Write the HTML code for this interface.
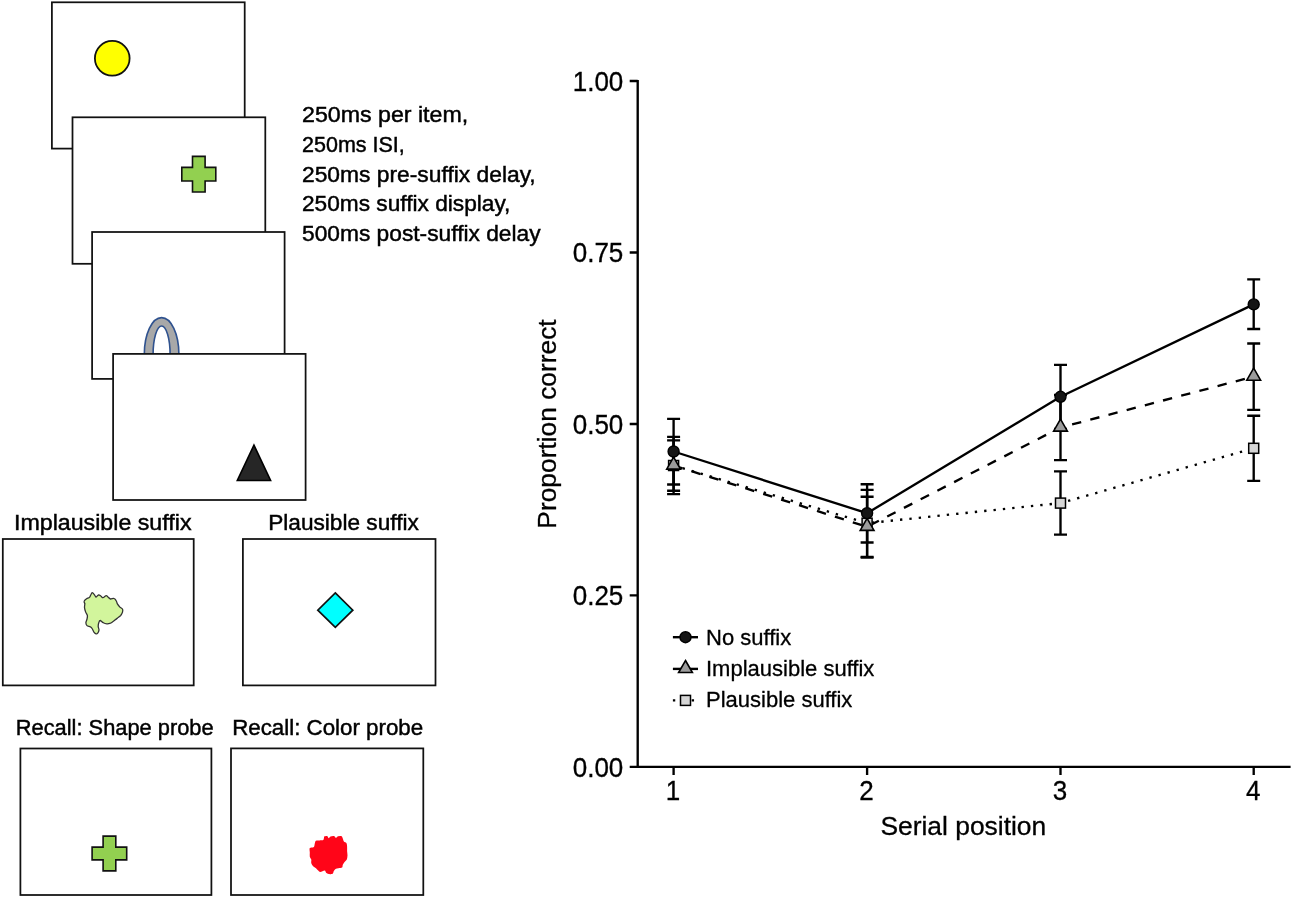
<!DOCTYPE html>
<html lang="en"><head><meta charset="utf-8"><title>Figure</title>
<style>
html,body{margin:0;padding:0;background:#fff;}
svg{display:block;font-family:"Liberation Sans",sans-serif;}
text{fill:#000;}
text.c{stroke:#000;stroke-width:0.45px;}
#chart text{stroke:#000;stroke-width:0.3px;}
</style></head>
<body>
<svg width="1299" height="898" viewBox="0 0 1299 898">
<rect width="1299" height="898" fill="#fff"/>
<g id="task">
<rect x="51.9" y="2.3" width="192.8" height="146.3" fill="#fff" stroke="#111" stroke-width="1.75"/>
<circle cx="112.25" cy="58.3" r="17.35" fill="#ffff00" stroke="#111" stroke-width="1.8"/>
<rect x="72.5" y="117.3" width="192.8" height="146.5" fill="#fff" stroke="#111" stroke-width="1.75"/>
<path d="M192.5 156.4L205.1 156.4L205.1 167.4L215.8 167.4L215.8 181.0L205.1 181.0L205.1 192.0L192.5 192.0L192.5 181.0L181.8 181.0L181.8 167.4L192.5 167.4Z" fill="#92d050" stroke="#111" stroke-width="1.6" stroke-linejoin="miter"/>
<rect x="92.1" y="232.0" width="192.5" height="146.9" fill="#fff" stroke="#111" stroke-width="1.75"/>
<path d="M144.3 354.4 A17.3 36.8 0 0 1 178.9 354.4 H170.1 A8.5 28.4 0 0 0 153.1 354.4 Z" fill="#a8a8a8" stroke="#2f528f" stroke-width="1.6"/>
<rect x="113.1" y="353.9" width="192.5" height="146.1" fill="#fff" stroke="#111" stroke-width="1.75"/>
<path d="M253.95 445.2L270.6 480.5H237.3Z" fill="#262626" stroke="#000" stroke-width="1.6" stroke-linejoin="miter"/>
<text class="c" x="302.0" y="122.3" font-size="22.2" textLength="166.2" lengthAdjust="spacingAndGlyphs">250ms per item,</text>
<text class="c" x="302.0" y="152.0" font-size="22.2" textLength="102.8" lengthAdjust="spacingAndGlyphs">250ms ISI,</text>
<text class="c" x="302.0" y="181.6" font-size="22.2" textLength="233.7" lengthAdjust="spacingAndGlyphs">250ms pre-suffix delay,</text>
<text class="c" x="302.0" y="211.2" font-size="22.2" textLength="208.4" lengthAdjust="spacingAndGlyphs">250ms suffix display,</text>
<text class="c" x="302.0" y="240.9" font-size="22.2" textLength="238.6" lengthAdjust="spacingAndGlyphs">500ms post-suffix delay</text>
<text class="c" x="14.0" y="530.0" font-size="22.2" textLength="177.5" lengthAdjust="spacingAndGlyphs">Implausible suffix</text>
<text class="c" x="268.2" y="530.0" font-size="22.2" textLength="150.6" lengthAdjust="spacingAndGlyphs">Plausible suffix</text>
<text class="c" x="15.8" y="734.6" font-size="22.2" textLength="197.8" lengthAdjust="spacingAndGlyphs">Recall: Shape probe</text>
<text class="c" x="232.2" y="734.6" font-size="22.2" textLength="191.0" lengthAdjust="spacingAndGlyphs">Recall: Color probe</text>
<rect x="2.8" y="539.0" width="190.9" height="146.4" fill="#fff" stroke="#111" stroke-width="1.75"/>
<path d="M92.4 592.7C93.1 592.8 94.4 594.8 95.0 595.6C95.6 596.3 95.5 597.1 96.1 597.0C96.7 596.9 97.7 595.0 98.6 594.8C99.4 594.7 100.4 595.8 101.1 596.3C101.9 596.8 102.1 597.9 102.9 597.7C103.8 597.6 105.3 595.6 106.2 595.6C107.1 595.5 107.6 596.8 108.4 597.4C109.1 597.9 109.6 598.8 110.5 599.0C111.5 599.1 113.2 598.1 114.2 598.5C115.1 598.8 115.8 600.1 116.3 601.0C116.9 601.9 116.8 602.9 117.4 603.9C118.0 604.9 119.1 606.3 119.9 607.1C120.8 608.0 122.1 608.1 122.5 609.0C122.9 609.8 122.8 611.1 122.5 612.2C122.2 613.3 121.6 614.4 120.7 615.5C119.8 616.5 118.3 617.4 117.1 618.4C115.8 619.3 114.5 620.5 113.4 621.3C112.3 622.0 111.6 622.6 110.5 623.1C109.5 623.5 108.1 623.9 106.9 623.8C105.7 623.7 104.4 623.3 103.3 622.7C102.2 622.2 101.1 620.7 100.4 620.5C99.7 620.4 99.3 621.0 99.0 622.0C98.6 623.0 98.2 625.0 98.2 626.3C98.2 627.7 99.0 628.9 99.0 629.9C98.9 631.0 98.4 632.2 97.9 632.8C97.4 633.5 96.7 634.1 96.1 633.9C95.4 633.8 94.6 633.0 93.9 632.1C93.2 631.2 92.7 629.4 92.1 628.5C91.5 627.6 91.1 627.2 90.3 626.7C89.4 626.2 87.7 626.3 87.0 625.6C86.3 624.9 85.9 623.8 85.9 622.7C85.9 621.6 86.8 620.3 87.0 619.1C87.3 617.9 87.6 616.7 87.4 615.5C87.1 614.3 86.0 613.2 85.6 611.9C85.1 610.5 84.6 608.8 84.5 607.5C84.4 606.2 84.9 604.9 84.8 603.9C84.8 602.9 83.8 602.2 84.1 601.4C84.4 600.5 85.7 599.5 86.6 598.8C87.6 598.2 88.8 598.1 89.5 597.4C90.3 596.6 90.5 595.3 91.0 594.5C91.5 593.7 91.8 592.5 92.4 592.7Z" fill="#d2f59c" stroke="#333" stroke-width="1.3"/>
<rect x="242.9" y="539.0" width="192.6" height="146.4" fill="#fff" stroke="#111" stroke-width="1.75"/>
<path d="M335.3 592.9L352.8 610.15L335.3 627.4L317.8 610.15Z" fill="#00ffff" stroke="#111" stroke-width="1.7"/>
<rect x="20.4" y="748.5" width="191.0" height="146.5" fill="#fff" stroke="#111" stroke-width="1.75"/>
<path d="M103.1 836.1L115.8 836.1L115.8 847.1L126.7 847.1L126.7 859.9L115.8 859.9L115.8 870.9L103.1 870.9L103.1 859.9L92.1 859.9L92.1 847.1L103.1 847.1Z" fill="#92d050" stroke="#111" stroke-width="1.6"/>
<rect x="231.0" y="748.4" width="192.3" height="146.6" fill="#fff" stroke="#111" stroke-width="1.75"/>
<path d="M324.3 836.5C324.9 836.2 326.5 835.8 327.2 836.1C327.9 836.4 328.1 838.2 328.7 838.3C329.2 838.3 329.6 836.8 330.5 836.5C331.4 836.1 333.2 835.9 334.1 836.1C335.0 836.4 335.3 837.9 335.9 837.9C336.5 838.0 336.8 836.8 337.7 836.5C338.6 836.2 340.5 835.8 341.3 836.1C342.2 836.5 342.4 837.7 342.8 838.6C343.2 839.6 343.3 840.8 343.9 841.5C344.5 842.3 345.9 842.1 346.4 843.0C346.9 843.8 347.0 845.3 347.1 846.6C347.2 847.9 347.1 849.5 347.1 851.0C347.2 852.4 347.5 853.9 347.5 855.3C347.4 856.7 347.3 858.4 346.8 859.6C346.2 860.8 344.9 861.7 344.2 862.5C343.6 863.4 343.1 863.9 342.8 864.7C342.4 865.6 342.8 867.0 342.1 867.6C341.3 868.2 339.5 868.1 338.4 868.3C337.3 868.6 336.3 868.6 335.5 869.1C334.8 869.5 334.2 870.4 333.7 871.2C333.2 872.0 333.5 873.3 332.6 873.8C331.8 874.2 329.7 874.3 328.7 874.1C327.6 873.9 326.8 873.3 326.1 872.7C325.5 872.1 325.6 870.6 324.7 870.5C323.7 870.4 321.4 871.9 320.3 871.9C319.3 871.9 318.9 871.1 318.2 870.5C317.4 869.9 316.8 869.1 316.0 868.3C315.1 867.6 313.9 867.0 313.1 866.2C312.3 865.3 311.6 864.3 311.3 863.3C311.0 862.2 311.5 860.7 311.3 859.6C311.0 858.6 310.1 858.0 309.8 856.7C309.6 855.5 309.8 853.9 309.8 852.4C309.8 851.0 309.2 849.0 309.8 848.1C310.5 847.2 313.0 847.8 313.8 847.0C314.7 846.1 314.5 844.0 314.9 843.0C315.3 842.0 315.2 841.2 316.0 840.8C316.8 840.4 318.4 840.6 319.6 840.5C320.8 840.3 322.5 840.6 323.2 840.1C324.0 839.6 323.8 838.2 324.0 837.6C324.1 837.0 323.8 836.7 324.3 836.5Z" fill="#ff0518"/>
</g>
<g id="chart">
<path d="M637.7 79.9V766.9H1290.6" fill="none" stroke="#000" stroke-width="2.35" stroke-linejoin="miter"/>
<path d="M637.7 81.0H629.7M637.7 252.5H629.7M637.7 424.0H629.7M637.7 595.4H629.7M637.7 766.9H629.7M673.6 766.9V774.9M867.1 766.9V774.9M1060.5 766.9V774.9M1253.7 766.9V774.9" fill="none" stroke="#000" stroke-width="2.35"/>
<text transform="translate(623.3 90.9) scale(1 1.05)" text-anchor="end" font-size="26">1.00</text>
<text transform="translate(623.3 262.4) scale(1 1.05)" text-anchor="end" font-size="26">0.75</text>
<text transform="translate(623.3 433.9) scale(1 1.05)" text-anchor="end" font-size="26">0.50</text>
<text transform="translate(623.3 605.3) scale(1 1.05)" text-anchor="end" font-size="26">0.25</text>
<text transform="translate(623.3 776.8) scale(1 1.05)" text-anchor="end" font-size="26">0.00</text>
<text transform="translate(673.1 800.3) scale(1 1.04)" text-anchor="middle" font-size="26">1</text>
<text transform="translate(866.6 800.3) scale(1 1.04)" text-anchor="middle" font-size="26">2</text>
<text transform="translate(1060.0 800.3) scale(1 1.04)" text-anchor="middle" font-size="26">3</text>
<text transform="translate(1253.2 800.3) scale(1 1.04)" text-anchor="middle" font-size="26">4</text>
<text x="963.3" y="834.7" text-anchor="middle" font-size="26" textLength="165.8" lengthAdjust="spacingAndGlyphs">Serial position</text>
<text transform="translate(555.7 424) rotate(-90)" text-anchor="middle" font-size="26" textLength="209.3" lengthAdjust="spacingAndGlyphs">Proportion correct</text>
<path d="M673.6 418.9V484.5M667.1 418.9H680.1M667.1 484.5H680.1M867.1 484.2V542.5M860.6 484.2H873.6M860.6 542.5H873.6M1060.5 364.8V428.8M1054.0 364.8H1067.0M1054.0 428.8H1067.0M1253.7 279.3V329.0M1247.2 279.3H1260.2M1247.2 329.0H1260.2" fill="none" stroke="#000" stroke-width="2.35"/>
<path d="M673.6 436.8V494.1M667.1 436.8H680.1M667.1 494.1H680.1M867.1 496.7V557.6M860.6 496.7H873.6M860.6 557.6H873.6M1060.5 394.9V460.1M1054.0 394.9H1067.0M1054.0 460.1H1067.0M1253.7 343.5V409.9M1247.2 343.5H1260.2M1247.2 409.9H1260.2" fill="none" stroke="#000" stroke-width="2.35"/>
<path d="M673.6 440.4V490.7M667.1 440.4H680.1M667.1 490.7H680.1M867.1 489.8V556.8M860.6 489.8H873.6M860.6 556.8H873.6M1060.5 471.3V534.6M1054.0 471.3H1067.0M1054.0 534.6H1067.0M1253.7 415.7V480.8M1247.2 415.7H1260.2M1247.2 480.8H1260.2" fill="none" stroke="#000" stroke-width="2.35"/>
<path d="M673.6 451.5L867.1 513.2L1060.5 396.8L1253.7 304.4" fill="none" stroke="#000" stroke-width="2.35"/>
<path d="M673.6 465.5L867.1 526.8L1060.5 427.5L1253.7 376.6" fill="none" stroke="#000" stroke-width="2.35" stroke-dasharray="9.4 9.4"/>
<path d="M673.6 465.5L867.1 523.2L1060.5 503.1L1253.7 448.3" fill="none" stroke="#000" stroke-width="2.35" stroke-dasharray="2.35 7.05"/>
<rect x="668.6" y="460.5" width="10" height="10" fill="#d6d6d6" stroke="#000" stroke-width="1.5"/>
<rect x="862.1" y="518.2" width="10" height="10" fill="#d6d6d6" stroke="#000" stroke-width="1.5"/>
<rect x="1055.5" y="498.1" width="10" height="10" fill="#d6d6d6" stroke="#000" stroke-width="1.5"/>
<rect x="1248.7" y="443.3" width="10" height="10" fill="#d6d6d6" stroke="#000" stroke-width="1.5"/>
<path d="M673.6 457.1L680.5 469.1L666.7 469.1Z" fill="#9c9c9c" stroke="#000" stroke-width="1.6"/>
<path d="M867.1 518.4L874.0 530.4L860.2 530.4Z" fill="#9c9c9c" stroke="#000" stroke-width="1.6"/>
<path d="M1060.5 419.1L1067.4 431.1L1053.6 431.1Z" fill="#9c9c9c" stroke="#000" stroke-width="1.6"/>
<path d="M1253.7 368.2L1260.6 380.2L1246.8 380.2Z" fill="#9c9c9c" stroke="#000" stroke-width="1.6"/>
<circle cx="673.6" cy="451.5" r="5.5" fill="#151515" stroke="#000" stroke-width="1.4"/>
<circle cx="867.1" cy="513.2" r="5.5" fill="#151515" stroke="#000" stroke-width="1.4"/>
<circle cx="1060.5" cy="396.8" r="5.5" fill="#151515" stroke="#000" stroke-width="1.4"/>
<circle cx="1253.7" cy="304.4" r="5.5" fill="#151515" stroke="#000" stroke-width="1.4"/>
<path d="M672.9 637.2H698" stroke="#000" stroke-width="2.4"/>
<circle cx="685.5" cy="637.2" r="5.5" fill="#151515" stroke="#000" stroke-width="1.4"/>
<path d="M672.9 668.9H698" stroke="#000" stroke-width="2.4"/>
<path d="M685.5 660.5L692.4 672.5L678.6 672.5Z" fill="#9c9c9c" stroke="#000" stroke-width="1.6"/>
<path d="M672.9 700.4H698" stroke="#000" stroke-width="2.4" stroke-dasharray="2.35 7.05"/>
<rect x="680.5" y="695.4" width="10" height="10" fill="#d6d6d6" stroke="#000" stroke-width="1.5"/>
<text x="706" y="644.6" font-size="22">No suffix</text>
<text x="706" y="676.0" font-size="22">Implausible suffix</text>
<text x="706" y="707.4" font-size="22">Plausible suffix</text>
</g>
</svg>
</body></html>
